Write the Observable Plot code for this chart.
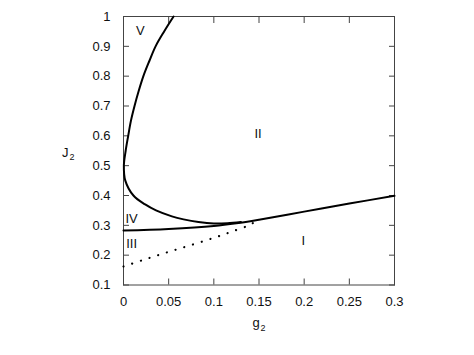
<!DOCTYPE html>
<html><head><meta charset="utf-8">
<script src="https://cdn.jsdelivr.net/npm/d3@7"></script>
<script src="https://cdn.jsdelivr.net/npm/@observablehq/plot@0.6"></script>
<style>body{margin:0;background:#fff}</style>
</head><body><div id="chart"></div>
<script>
const xTicks = [0, 0.05, 0.1, 0.15, 0.2, 0.25, 0.3];
const yTicks = [0.1, 0.2, 0.3, 0.4, 0.5, 0.6, 0.7, 0.8, 0.9, 1];
const upperG = [0.0554,0.045,0.0355,0.0285,0.022,0.0168,0.0122,0.0082,0.0052,0.0024,0.0004,0.002,0.011,0.024,0.036,0.0536,0.0665,0.083,0.1,0.115,0.13];
const upperJ = [1.0,0.95,0.9,0.85,0.8,0.75,0.7,0.65,0.6,0.55,0.5,0.45,0.4,0.37,0.35,0.33,0.32,0.311,0.306,0.307,0.311];
const lowerG = [0,0.05,0.1,0.125,0.15,0.2,0.25,0.3];
const lowerJ = [0.2825,0.288,0.298,0.307,0.319,0.346,0.373,0.399];
const dotG = [0,0.025,0.05,0.075,0.1,0.12,0.14,0.15];
const dotJ = [0.162,0.187,0.211,0.234,0.258,0.279,0.302,0.322];
const regionNames = ["V","II","IV","III","I"];
const regionG = [0.0185,0.149,0.009,0.009,0.199];
const regionJ = [0.952,0.607,0.322,0.238,0.249];

const upper = upperG.map((g,i)=>({g, J: upperJ[i]}));
const lower = lowerG.map((g,i)=>({g, J: lowerJ[i]}));
const dots = dotG.map((g,i)=>({g, J: dotJ[i]}));
const regions = regionNames.map((t,i)=>({t, g: regionG[i], J: regionJ[i]}));

const font = "'Liberation Sans', Arial, Helvetica, sans-serif";
const chart = Plot.plot({
  width: 474, height: 355,
  marginLeft: 123, marginRight: 80, marginTop: 16, marginBottom: 70.5,
  style: {fontFamily: font, fontSize: "13px", background: "#fff", color: "#111"},
  x: {domain: [0, 0.3]},
  y: {domain: [0.1, 1]},
  marks: [
    Plot.frame({stroke: "#444", strokeWidth: 1}),
    Plot.axisX({ticks: xTicks, tickSize: -6, tickPadding: 18, tickFormat: d => String(d), stroke: "#444", label: null, fontSize: 13}),
    Plot.axisX({anchor: "top", ticks: xTicks, tickSize: -6, tickFormat: () => "", stroke: "#444", label: null}),
    Plot.axisY({ticks: yTicks, tickSize: -6, tickPadding: 19, tickFormat: d => String(d), stroke: "#444", label: null, fontSize: 13}),
    Plot.axisY({anchor: "right", ticks: yTicks, tickSize: -6, tickFormat: () => "", stroke: "#444", label: null}),
    Plot.line(dots, {x: "g", y: "J", stroke: "#000", strokeWidth: 2.2, strokeDasharray: "0.1,9", strokeLinecap: "round", curve: "catmull-rom"}),
    Plot.line(lower, {x: "g", y: "J", stroke: "#000", strokeWidth: 2, curve: "catmull-rom"}),
    Plot.line(upper, {x: "g", y: "J", stroke: "#000", strokeWidth: 2, curve: "catmull-rom"}),
    Plot.text(regions, {x: "g", y: "J", text: "t", fontSize: 13, fill: "#111"}),
    Plot.text(["J"], {frameAnchor: "left", dx: -61.5, dy: 2.5, fontSize: 13, fill: "#111"}),
    Plot.text(["2"], {frameAnchor: "left", dx: -54, dy: 6, fontSize: 9, fill: "#111"}),
    Plot.text(["g"], {frameAnchor: "bottom", dx: -3, dy: 42, fontSize: 13, fill: "#111"}),
    Plot.text(["2"], {frameAnchor: "bottom", dx: 4, dy: 46, fontSize: 9, fill: "#111"})
  ]
});
document.getElementById("chart").append(chart);
</script>
</body></html>
